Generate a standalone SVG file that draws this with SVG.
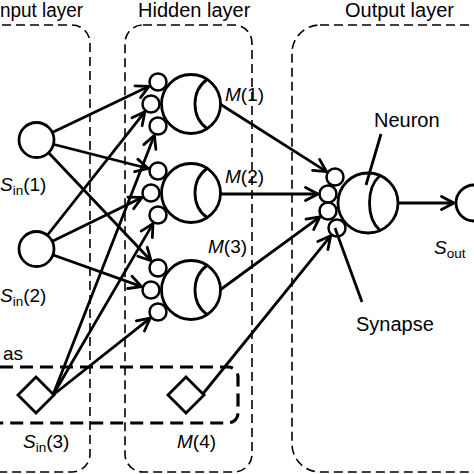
<svg xmlns="http://www.w3.org/2000/svg" width="474" height="474" viewBox="0 0 474 474">
<style>
.box{fill:none;stroke:#000;stroke-width:1.6;stroke-dasharray:9 5}
.bias{fill:none;stroke:#000;stroke-width:3.2;stroke-dasharray:13 7}
.c{fill:#fff;stroke:#000;stroke-width:2.8}
.s{fill:#fff;stroke:#000;stroke-width:2.5}
.arc{fill:none;stroke:#000;stroke-width:2.8}
.ln{fill:none;stroke:#000;stroke-width:2.8;marker-end:url(#arr)}
.pl{fill:none;stroke:#000;stroke-width:2.8}
text{font-family:"Liberation Sans",Arial,sans-serif;fill:#000}
.t{font-size:20px}
.l{font-size:19px}
.i{font-style:italic}
.sub{font-size:13.5px}
</style>
<defs>
<marker id="arr" markerUnits="userSpaceOnUse" markerWidth="28" markerHeight="28" viewBox="-16 -14 28 28" refX="0" refY="0" orient="auto" overflow="visible">
<path d="M-12.5,-6.5 L0,0 L-12.5,6.5" fill="none" stroke="#000" stroke-width="2.8" stroke-linejoin="round" stroke-linecap="round"/>
</marker>
</defs>
<rect width="474" height="474" fill="#fff"/>
<g id="layers">
<rect class="box" x="-30" y="25" width="120" height="447" rx="18"/>
<rect class="box" x="125" y="25" width="127" height="447" rx="18"/>
<rect class="box" x="292" y="25" width="220" height="447" rx="28"/>
<rect class="bias" x="-30" y="367" width="268" height="56" rx="10"/>
<text class="t" x="0" y="17" textLength="83" lengthAdjust="spacingAndGlyphs">nput layer</text>
<text class="t" x="138" y="17">Hidden layer</text>
<text class="t" x="345" y="17">Output layer</text>
<text class="l" x="3" y="360">as</text>
</g>
<g id="connectors">
<line class="ln" x1="36.5" y1="140" x2="149" y2="86.3"/>
<line class="ln" x1="36.5" y1="140" x2="148.3" y2="168.5"/>
<line class="ln" x1="36.5" y1="140" x2="151.1" y2="260.8"/>
<line class="ln" x1="36.5" y1="249" x2="144.8" y2="111.9"/>
<line class="ln" x1="36.5" y1="249" x2="142" y2="197.4"/>
<line class="ln" x1="36.5" y1="249" x2="141.6" y2="286.6"/>
<line class="ln" x1="53" y1="395" x2="154.4" y2="135.3"/>
<line class="ln" x1="53" y1="395" x2="153" y2="223.6"/>
<line class="ln" x1="53" y1="395" x2="150.2" y2="318.2"/>
<line class="ln" x1="220" y1="104" x2="326.6" y2="171.6"/>
<line class="ln" x1="220" y1="194" x2="318" y2="194"/>
<line class="ln" x1="220" y1="290" x2="319.9" y2="216.9"/>
<line class="ln" x1="202" y1="395" x2="330.7" y2="235.8"/>
<line class="ln" x1="398" y1="203" x2="454" y2="203"/>
</g>
<g id="in1">
<circle class="c" cx="36.5" cy="140" r="17.5"/>
<text class="l i" x="0" y="191">S<tspan class="sub" dy="4" font-style="normal">in</tspan><tspan dy="-4" font-style="normal">(1)</tspan></text>
</g>
<g id="in2">
<circle class="c" cx="36.5" cy="249" r="17.5"/>
<text class="l i" x="0" y="302">S<tspan class="sub" dy="4" font-style="normal">in</tspan><tspan dy="-4" font-style="normal">(2)</tspan></text>
</g>
<g id="in3">
<path class="c" d="M18,395 L36,377 L54,395 L36,413 Z"/>
<text class="l i" x="23" y="448">S<tspan class="sub" dy="4" font-style="normal">in</tspan><tspan dy="-4" font-style="normal">(3)</tspan></text>
</g>
<g id="hidden1" transform="translate(191,104)">
<circle class="c" r="29.5"/>
<path class="arc" d="M16,-24.5 C0,-13 0,13 16,24.5"/>
<circle class="s" cx="-33" cy="-22" r="8.5"/>
<circle class="s" cx="-40" cy="0" r="8.5"/>
<circle class="s" cx="-33" cy="22" r="8.5"/>
<text class="l" x="34" y="-3"><tspan class="i">M</tspan>(1)</text>
</g>
<g id="hidden2" transform="translate(191,193)">
<circle class="c" r="29.5"/>
<path class="arc" d="M16,-24.5 C0,-13 0,13 16,24.5"/>
<circle class="s" cx="-33" cy="-22" r="8.5"/>
<circle class="s" cx="-40" cy="0" r="8.5"/>
<circle class="s" cx="-33" cy="22" r="8.5"/>
<text class="l" x="34" y="-10"><tspan class="i">M</tspan>(2)</text>
</g>
<g id="hidden3" transform="translate(191,290)">
<circle class="c" r="29.5"/>
<path class="arc" d="M16,-24.5 C0,-13 0,13 16,24.5"/>
<circle class="s" cx="-33" cy="-22" r="8.5"/>
<circle class="s" cx="-40" cy="0" r="8.5"/>
<circle class="s" cx="-33" cy="22" r="8.5"/>
<text class="l" x="17" y="-37"><tspan class="i">M</tspan>(3)</text>
</g>
<g id="bias2">
<path class="c" d="M168,395 L186,377 L204,395 L186,413 Z"/>
<text class="l" x="177" y="448"><tspan class="i">M</tspan>(4)</text>
</g>
<g id="output">
<circle class="c" cx="368" cy="203" r="30"/>
<path class="arc" d="M380,175.5 C366,188 366,218 380,230.5"/>
<circle class="s" cx="335" cy="177" r="8.5"/>
<circle class="s" cx="328" cy="194" r="8.5"/>
<circle class="s" cx="328" cy="211" r="8.5"/>
<circle class="s" cx="337" cy="228" r="8.5"/>
<line class="pl" x1="381" y1="134" x2="366" y2="185"/>
<line class="pl" x1="335" y1="228" x2="362" y2="302"/>
<text class="t" x="374" y="127">Neuron</text>
<text class="t" x="356" y="331">Synapse</text>
</g>
<g id="sout">
<circle class="c" cx="474" cy="203" r="18"/>
<text class="l i" x="434" y="254">S<tspan class="sub" dy="4" font-style="normal">out</tspan></text>
</g>
</svg>
